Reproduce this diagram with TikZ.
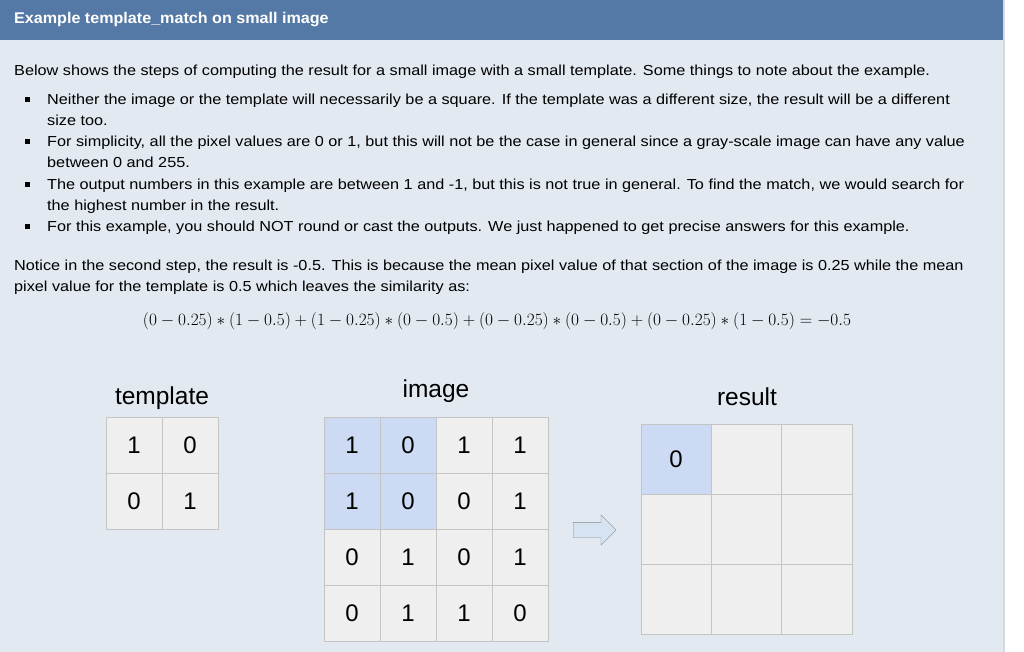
\documentclass[tikz,border=0pt]{standalone}
\usepackage[no-math]{fontspec}
\setmainfont{Liberation Sans}
\newfontfamily\bodyfont[FakeStretch=1.12]{Liberation Sans}
\newfontfamily\titlefont[FakeStretch=1.04]{Liberation Sans}
\usetikzlibrary{shapes.arrows}
\definecolor{panel}{HTML}{E2E9F1}
\definecolor{header}{HTML}{5579A6}
\definecolor{panelrule}{HTML}{D3DAE2}
\definecolor{cellgray}{HTML}{EFEFEF}
\definecolor{cellblue}{HTML}{CCDAF3}
\definecolor{gridline}{HTML}{C4C4C4}
\definecolor{arrowfill}{HTML}{D6E3F1}
\definecolor{arrowline}{HTML}{858A90}
\tikzset{
  line/.style={anchor=base west, inner sep=0pt, font=\bodyfont\fontsize{14.5}{17}\selectfont},
  bullet/.style={fill=black, inner sep=0pt, minimum size=5pt},
  cell/.style={draw=gridline, fill=cellgray, inner sep=0pt, minimum size=56pt, font=\fontsize{24}{24}\selectfont},
  bigcell/.style={cell, minimum size=70.3pt},
  label/.style={anchor=base, inner sep=0pt, font=\fontsize{24.5}{26}\selectfont}
}
\begin{document}
\begin{tikzpicture}[x=1pt,y=-1pt]
\useasboundingbox (0,0) rectangle (1024,652);
% panel and header
\fill[panel] (0,0) rectangle (1003,652);
\draw[panelrule, line width=2pt] (1004,0) -- (1004,652);
\fill[header] (0,0) rectangle (1003,40);
\node[anchor=base west, inner sep=0pt, text=white, font=\titlefont\bfseries\fontsize{15.5}{18}\selectfont] (title) at (14,24) {Example template\_match on small image};
% text
\node[line] (intro) at (14,76) {Below shows the steps of computing the result for a small image with a small template. Some things to note about the example.};
\foreach \y/\name in {100/b1,142/b2,185/b3,227/b4}
  \node[bullet] (\name) at (27.5,\y) {};
\node[line] (l1) at (47,105) {Neither the image or the template will necessarily be a square. If the template was a different size, the result will be a different};
\node[line] (l1b) at (47,126) {size too.};
\node[line] (l2) at (47,147) {For simplicity, all the pixel values are 0 or 1, but this will not be the case in general since a gray-scale image can have any value};
\node[line] (l2b) at (47,168) {between 0 and 255.};
\node[line] (l3) at (47,190) {The output numbers in this example are between 1 and -1, but this is not true in general. To find the match, we would search for};
\node[line] (l3b) at (47,211) {the highest number in the result.};
\node[line] (l4) at (47,232) {For this example, you should NOT round or cast the outputs. We just happened to get precise answers for this example.};
\node[line] (n1) at (14,270) {Notice in the second step, the result is -0.5. This is because the mean pixel value of that section of the image is 0.25 while the mean};
\node[line] (n2) at (14,291) {pixel value for the template is 0.5 which leaves the similarity as:};
\node[anchor=base, inner sep=0pt, font=\fontsize{16}{18}\selectfont] (eq) at (497,325)
  {$(0-0.25)\ast(1-0.5)+(1-0.25)\ast(0-0.5)+(0-0.25)\ast(0-0.5)+(0-0.25)\ast(1-0.5)=-0.5$};
% template
\node[label] (tlabel) at (162,404) {template};
\foreach \c/\r/\v in {0/0/1,1/0/0,0/1/0,1/1/1}
  \node[cell] (t\r\c) at ({134+56*\c},{445+56*\r}) {\v};
% image
\node[label] (ilabel) at (436,397) {image};
\foreach \row [count=\r from 0] in {{1,0,1,1},{1,0,0,1},{0,1,0,1},{0,1,1,0}}
  \foreach \v [count=\c from 0] in \row {
    \ifnum\r<2 \ifnum\c<2 \def\shade{cellblue}\else\def\shade{cellgray}\fi\else\def\shade{cellgray}\fi
    \node[cell, fill=\shade] (i\r\c) at ({352+56*\c},{445+56*\r}) {\v};
  }
% arrow
\node[single arrow, draw=arrowline, fill=arrowfill, inner xsep=0pt, inner ysep=7.5pt, minimum height=43pt,
  single arrow head extend=7.5pt, anchor=tail] (arr) at (573,530) {};
% result
\node[label] (rlabel) at (747,405) {result};
\foreach \r in {0,1,2}
  \foreach \c in {0,1,2}
    \node[bigcell] (r\r\c) at ({676+70.3*\c},{459+70*\r}) {};
\node[bigcell, fill=cellblue] (r00) at (676,459) {0};
\end{tikzpicture}
\end{document}
